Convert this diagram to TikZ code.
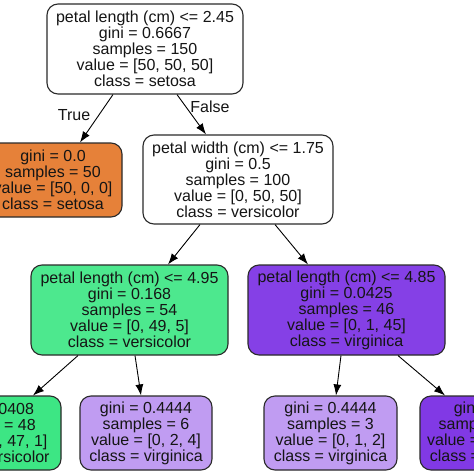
\documentclass[tikz,border=0pt]{standalone}
\usepackage{fontspec}
\setmainfont{Liberation Sans}
\usetikzlibrary{arrows.meta}
\definecolor{bordc}{HTML}{2A2A2A}
\definecolor{txtc}{HTML}{151515}
\definecolor{setosac}{HTML}{E68139}
\definecolor{versic}{HTML}{4DE88E}
\definecolor{versileaf}{HTML}{3DE684}
\definecolor{virgc}{HTML}{8540E6}
\definecolor{virgleaf}{HTML}{C09CF2}
\definecolor{virgpure}{HTML}{8139E5}
\tikzset{
  tnode/.style={draw=bordc, line width=1.1pt, rounded corners=11pt, align=center,
    inner sep=0pt, text=txtc, font=\fontsize{16}{16}\selectfont},
  inner/.style={tnode, minimum height=90pt},
  leaf/.style={tnode, minimum height=74pt},
  edge/.style={draw=black, line width=0.9pt, -{Latex[length=11pt,width=8pt]}},
  elabel/.style={font=\fontsize{16}{16}\selectfont, text=txtc, inner sep=0pt}
}
\begin{document}
\begin{tikzpicture}[x=1pt,y=-1pt]
\useasboundingbox (0,0) rectangle (474,474);
\clip (0,0) rectangle (474,474);
\fill[white] (0,0) rectangle (474,474);
\node[inner, fill=white, minimum width=196pt] (root) at (145,49)
  {petal length (cm) <= 2.45\\gini = 0.6667\\samples = 150\\value = [50, 50, 50]\\class = setosa};
\node[leaf, fill=setosac, minimum width=138pt] (n2) at (53,180)
  {gini = 0.0\\samples = 50\\value = [50, 0, 0]\\class = setosa};
\node[inner, fill=white, minimum width=190pt, minimum height=89pt] (n3) at (238,179.5)
  {petal width (cm) <= 1.75\\gini = 0.5\\samples = 100\\value = [0, 50, 50]\\class = versicolor};
\node[inner, fill=versic, minimum width=197pt] (n4) at (129.5,310)
  {petal length (cm) <= 4.95\\gini = 0.168\\samples = 54\\value = [0, 49, 5]\\class = versicolor};
\node[inner, fill=virgc, minimum width=197pt] (n5) at (346.5,310)
  {petal length (cm) <= 4.85\\gini = 0.0425\\samples = 46\\value = [0, 1, 45]\\class = virginica};
\node[leaf, fill=versileaf, minimum width=146pt] (n6) at (-12,433)
  {gini = 0.0408\\samples = 48\\value = [0, 47, 1]\\class = versicolor};
\node[leaf, fill=virgleaf, minimum width=132pt] (n7) at (146,433)
  {gini = 0.4444\\samples = 6\\value = [0, 2, 4]\\class = virginica};
\node[leaf, fill=virgleaf, minimum width=133pt] (n8) at (330.5,433)
  {gini = 0.4444\\samples = 3\\value = [0, 1, 2]\\class = virginica};
\node[leaf, fill=virgpure, minimum width=133pt] (n9) at (486.5,433)
  {gini = 0.0\\samples = 43\\value = [0, 0, 43]\\class = virginica};
\draw[edge] ([xshift=-32pt]root.south) -- ([xshift=27pt]n2.north);
\draw[edge] ([xshift=32pt]root.south) -- ([xshift=-32pt]n3.north);
\draw[edge] ([xshift=-38pt]n3.south) -- ([xshift=38.5pt]n4.north);
\draw[edge] ([xshift=37pt]n3.south) -- ([xshift=-38.5pt]n5.north);
\draw[edge] ([xshift=-51.5pt]n4.south) -- ([xshift=45pt]n6.north);
\draw[edge] ([xshift=5.5pt]n4.south) -- ([xshift=-5pt]n7.north);
\draw[edge] ([xshift=-5.5pt]n5.south) -- ([xshift=5.5pt]n8.north);
\draw[edge] ([xshift=51.5pt]n5.south) -- ([xshift=-41.5pt]n9.north);
\node[elabel] (ltrue) at (74,115) {True};
\node[elabel] (lfalse) at (210,107) {False};
\end{tikzpicture}
\end{document}
